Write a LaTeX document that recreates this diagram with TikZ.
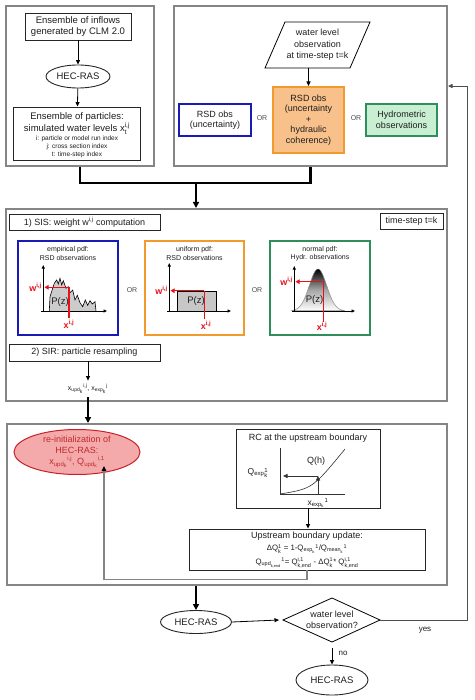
\documentclass[tikz,border=0pt]{standalone}
\usepackage{fontspec}
\setmainfont{Liberation Sans}
\usepackage{amsmath}
\usetikzlibrary{shapes.geometric,arrows.meta,calc}
\definecolor{grayb}{HTML}{858585}
\definecolor{blueb}{HTML}{1A1AB8}
\definecolor{orab}{HTML}{F39A2C}
\definecolor{oraf}{HTML}{F8C08A}
\definecolor{greenb}{HTML}{2E8E5C}
\definecolor{greenf}{HTML}{C8EFD2}
\definecolor{redb}{HTML}{C8202A}
\definecolor{redf}{HTML}{F4AAAA}
\definecolor{redt}{HTML}{C0282D}
\definecolor{pdfred}{HTML}{E8101A}
\definecolor{txt}{HTML}{1E1E1E}
\begin{document}
\begin{tikzpicture}[x=1pt,y=-1pt, font=\fontsize{9}{10.5}\selectfont, text=txt,
  outerbox/.style={draw=grayb, line width=2pt, inner sep=0pt, anchor=north west},
  ibox/.style={draw=black!85, line width=0.9pt, inner sep=0pt, align=center, fill=white},
  ell/.style={draw=black!85, ellipse, line width=0.9pt, inner sep=0pt, fill=white},
  bigarrow/.style={line width=2.2pt, -{Triangle[length=6pt,width=6pt]}},
  thickline/.style={line width=2.2pt},
  lnk/.style={line width=0.8pt, -{Triangle[length=4.5pt,width=4pt]}},
  small/.style={font=\fontsize{7}{8.5}\selectfont},
  tiny/.style={font=\fontsize{6.5}{8}\selectfont},
  axisarrow/.style={line width=0.9pt, -{Triangle[length=3.5pt,width=3pt]}},
  redl/.style={draw=pdfred, line width=1.4pt},
  redlab/.style={text=pdfred, font=\fontsize{9}{10}\selectfont\bfseries, inner sep=0pt},
  frm/.style={font=\fontsize{7.8}{9}\selectfont, inner sep=0pt},
]
\useasboundingbox (0,0) rectangle (474,700);

% ---------- top-left ----------
\node[outerbox, minimum width=148pt, minimum height=160pt] (tl) at (5,5) {};
\node[ibox, minimum width=106pt, minimum height=27pt, font=\fontsize{9.5}{11}\selectfont] (inflow) at (78,26.5) {Ensemble of inflows\\generated by CLM 2.0};
\node[ell, minimum width=64pt, minimum height=23pt, font=\fontsize{9.5}{11}\selectfont] (hec1) at (78,76.5) {HEC-RAS};
\node[ibox, minimum width=127pt, minimum height=53pt] (part) at (77,133.5) {};
\node[font=\fontsize{9.5}{11}\selectfont, inner sep=0pt] (p1) at (77,117) {Ensemble of particles:};
\node[font=\fontsize{9.5}{11}\selectfont, inner sep=0pt] (p2) at (77,128.5) {simulated water levels x$_{\text{t}}^{\text{i,j}}$};
\node[tiny, inner sep=0pt] (p3) at (77,139) {i: particle or model run index};
\node[tiny, inner sep=0pt] (p4) at (77,147) {j: cross section index};
\node[tiny, inner sep=0pt] (p5) at (77,155) {t: time-step index};

% ---------- top-right ----------
\node[outerbox, minimum width=273pt, minimum height=160pt] (tr) at (173,5) {};
\node[minimum height=46pt, inner sep=0pt, align=center, font=\fontsize{9}{11.5}\selectfont] (obs) at (317.5,45) {water level\\observation\\at time-step t=k};
\draw[line width=0.8pt] (265,68) -- (285,22) -- (370,22) -- (350,68) -- cycle;
\node[ibox, draw=orab, fill=oraf, line width=2pt, minimum width=71pt, minimum height=66pt, font=\fontsize{9}{10.5}\selectfont] (orange) at (308.5,120) {RSD obs\\(uncertainty\\+\\hydraulic\\coherence)};
\node[ibox, draw=blueb, line width=2pt, minimum width=72pt, minimum height=32pt] (blue) at (215,120) {RSD obs\\(uncertainty)};
\node[small, text=black!70] (or1) at (262,118) {OR};
\node[small, text=black!70] (or2) at (356,118) {OR};
\node[ibox, draw=greenb, fill=greenf, line width=2pt, minimum width=71pt, minimum height=32pt] (green) at (401.5,120) {Hydrometric\\observations};

% ---------- middle ----------
\node[outerbox, minimum width=441pt, minimum height=192pt] (mid) at (5,208) {};
\node[ibox, minimum width=151pt, minimum height=16pt] (sis) at (84.5,222) {1) SIS: weight w$^{\text{i,j}}$ computation};
\node[ibox, minimum width=63pt, minimum height=16pt] (ts) at (411.5,221) {time-step t=k};
\node[ibox, draw=blueb, line width=2pt, minimum width=100pt, minimum height=94pt] (pdfb) at (68,288) {};
\node[ibox, draw=orab, line width=2pt, minimum width=99pt, minimum height=94pt] (pdfo) at (194.5,288) {};
\node[ibox, draw=greenb, line width=2pt, minimum width=100pt, minimum height=94pt] (pdfg) at (320,288) {};
\node[small, text=black!70] (or3) at (132,290) {OR};
\node[small, text=black!70] (or4) at (257,290) {OR};

% empirical pdf
\node[small, align=center] (tb) at (68,253.5) {empirical pdf:\\RSD observations};
\filldraw[fill=black!20, draw=black, line width=0.6pt] (49.3,311) -- (50,296.7) -- (52.7,288.3) -- (54.3,283.3) -- (56.7,280) -- (58.3,284) -- (60,278.3) -- (61.7,285) -- (63.3,280.7) -- (66,288.3) -- (68.3,286.7) -- (70,292.7) -- (72.7,290) -- (75,300) -- (77.3,295.3) -- (80,302.7) -- (82.7,306.7) -- (85.3,300) -- (87.7,305.3) -- (90,300.7) -- (92.3,304) -- (95,301.7) -- (96,311);
\draw[axisarrow] (43.3,311) -- (43.3,265);
\draw[axisarrow] (41,311) -- (107,311);
\node[font=\fontsize{9.5}{10}\selectfont] (pzb) at (60,302) {P(z)};
\draw[redl] (69,318) -- (69,287.3);
\draw[redl, -{Triangle[length=4pt,width=4.5pt]}] (69,287.3) -- (44.5,287.3);
\node[redlab, anchor=east] (wb) at (42,287) {w$^{\text{i,j}}$};
\node[redlab] (xb) at (69,324.5) {x$^{\text{i,j}}$};

% uniform pdf
\node[small, align=center] (to) at (194.5,253.5) {uniform pdf:\\RSD observations};
\filldraw[fill=black!22, draw=black, line width=0.8pt] (177.3,291.7) rectangle (216.7,311);
\draw[axisarrow] (169.3,311) -- (169.3,263);
\draw[axisarrow] (167,311) -- (231,311);
\node[font=\fontsize{9.5}{10}\selectfont] (pzo) at (196,301.5) {P(z)};
\draw[redl] (204.3,319) -- (204.3,290.7);
\draw[redl, -{Triangle[length=4pt,width=4.5pt]}] (204.3,290.7) -- (170.5,290.7);
\node[redlab, anchor=east] (wo) at (168,290.5) {w$^{\text{i,j}}$};
\node[redlab] (xo) at (206,325) {x$^{\text{i,j}}$};

% normal pdf
\node[small, align=center] (tg) at (320,253.5) {normal pdf:\\Hydr. observations};
\shade[top color=black, bottom color=white, middle color=black!35, draw=black!45, line width=0.5pt] plot[domain=291:345, samples=60, smooth] (\x,{311-42*exp(-((\x-318)^2)/150)}) -- cycle;
\draw[axisarrow] (294.3,311) -- (294.3,266);
\draw[axisarrow] (292,311) -- (355,311);
\node[font=\fontsize{9.5}{10}\selectfont] (pzg) at (314.5,300.5) {P(z)};
\draw[redl] (323.3,321.7) -- (323.3,281.7);
\draw[redl, -{Triangle[length=4pt,width=4.5pt]}] (323.3,281.7) -- (295.5,281.7);
\node[redlab, anchor=east] (wg) at (293,281.5) {w$^{\text{i,j}}$};
\node[redlab] (xg) at (322,326.5) {x$^{\text{i,j}}$};

\node[ibox, minimum width=151pt, minimum height=17pt] (sir) at (84.5,352.5) {2) SIR: particle resampling};
\node[small] (xupd) at (88,389) {x$_{\text{upd}_{\text{k}}}{}^{\text{i,j}}$, x$_{\text{exp}_{\text{k}}}{}^{\text{j}}$};

% ---------- bottom ----------
\node[outerbox, minimum width=440pt, minimum height=161pt] (bot) at (6,423) {};
\node[ellipse, draw=redb, fill=redf, line width=1pt, minimum width=126pt, minimum height=45pt, inner sep=0pt] (reinit) at (77,452) {};
\node[text=redt, align=center, font=\fontsize{9}{11}\selectfont] (reinitt) at (77,452) {re-initialization of\\HEC-RAS:\\x$_{\text{upd}_{\text{k}}}{}^{\text{i,j}}$, Q$_{\text{upd}_{\text{k}}}{}^{\text{i,1}}$};
\coordinate (reinA) at (104,466);

\node[ibox, minimum width=144pt, minimum height=79pt] (rc) at (308,468.5) {};
\node (rct) at (308,438) {RC at the upstream boundary};
\draw[line width=0.7pt, draw=black!80] (280,448) -- (280,494) -- (345,494);
\draw[line width=0.6pt, draw=black!80] (280,494) .. controls (312.5,488.6) .. (345,449);
\coordinate (rcP) at (318,476);
\coordinate (rcQ) at (283,476);
\coordinate (rcB) at (318,494);
\draw[lnk, draw=black!80] (rcP) -- (rcQ);
\draw[lnk, draw=black!80] (rcB) -- (rcP);
\node (qh) at (316,461) {Q(h)};
\node[font=\fontsize{8.5}{10}\selectfont] (qexp) at (258,473) {Q$_{\text{exp}}{}_{\text{k}}^{\text{1}}$};
\node[font=\fontsize{8.5}{10}\selectfont] (xexp) at (318,503) {x$_{\text{exp}_{\text{k}}}{}^{\text{1}}$};

\node[ibox, minimum width=236pt, minimum height=41pt] (up) at (307,549.5) {};
\node[font=\fontsize{9}{10}\selectfont, inner sep=0pt] (up1) at (307,536.5) {Upstream boundary update:};
\node[frm] (up2) at (307,549) {ΔQ$_{\text{k}}^{\text{1}}$ = 1-Q$_{\text{exp}_{\text{k}}}{}^{\text{1}}$/Q$_{\text{mean}_{\text{k}}}{}^{\text{1}}$};
\node[frm] (up3) at (307,562.5) {Q$_{\text{upd}_{\text{k,end}}}{}^{\text{1}}$= Q$_{\text{k,end}}^{\text{i,1}}$ - ΔQ$_{\text{k}}^{\text{1}}$* Q$_{\text{k,end}}^{\text{i,1}}$};

% ---------- outside bottom ----------
\coordinate (j) at (196,183);
\node[ell, minimum width=71pt, minimum height=23pt, font=\fontsize{9.5}{11}\selectfont] (hec2) at (196,622) {HEC-RAS};
\node[align=center, font=\fontsize{9}{10.5}\selectfont] (dia) at (332,620) {water level\\observation?};
\coordinate (dW) at (283,620);
\coordinate (dN) at (332,598);
\coordinate (dE) at (380,620);
\coordinate (dS) at (332,642);
\draw[line width=0.8pt] (dW) -- (dN) -- (dE) -- (dS) -- cycle;
\node[ell, minimum width=72pt, minimum height=30pt, font=\fontsize{9.5}{11}\selectfont] (hec3) at (332,680) {HEC-RAS};
\node[font=\fontsize{8}{9}\selectfont] (no) at (343,653) {no};
\node[font=\fontsize{8}{9}\selectfont] (yes) at (425,630) {yes};

% ---------- connectors ----------
\draw[lnk] (inflow) -- (hec1);
\draw[lnk] (hec1) -- (part);
\draw[lnk] (orange.north |- obs.south) -- (orange.north);
\draw[thickline] (tl.south) |- (j) -| (tr.south);
\draw[bigarrow] (j) -- (j |- mid.north);
\draw[lnk] (xupd.north |- sir.south) -- (xupd.north);
\draw[bigarrow] (xupd.south) -- (xupd.south |- bot.north);
\draw[lnk] (rc.south) -- (rc.south |- up.north);
\draw[draw=grayb, line width=1.2pt, -{Triangle[length=5pt,width=4.5pt,color=black]}] (up.south) -- ++(0,9) -| (reinA);
\draw[bigarrow] (j |- bot.south) -- (hec2.north);
\draw[lnk] (hec2.east) -- ($(dW)+(-4,0)$);
\draw[lnk] ($(dS)+(0,6)$) -- (hec3.north);
\draw[lnk, draw=black!70] (dE) -| ($(tr.east)+(19,0)$) -- (tr.east);
\end{tikzpicture}
\end{document}
